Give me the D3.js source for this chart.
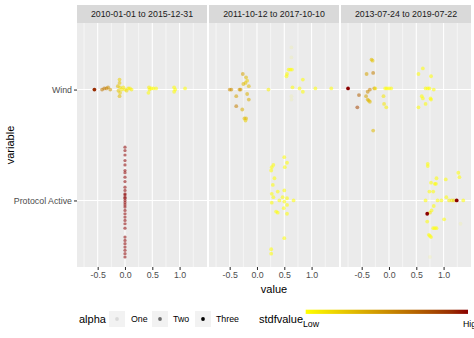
<!DOCTYPE html>
<html><head><meta charset="utf-8">
<script src="https://cdn.jsdelivr.net/npm/d3@7"></script>
<style>body{margin:0;background:#fff} svg{display:block;font-family:"Liberation Sans",Arial,sans-serif}</style>
</head><body><svg id="c" width="474" height="338"></svg>
<script>
// ---------- data ----------
const periods = ["2010-01-01 to 2015-12-31", "2011-10-12 to 2017-10-10", "2013-07-24 to 2019-07-22"];
const variables = ["Protocol Active", "Wind"];          // level 1, level 2
const xTicks = [-0.5, 0, 0.5, 1.0];
const xMinor = [-0.75, -0.25, 0.25, 0.75, 1.25];
const xDomain = [-0.879, 1.502];
const alphaLevels = ["One", "Two", "Three"];
const alphaValues = [0.1, 0.55, 1];
const stdfLabels = ["Low", "High"];
const stdfColors = ["#FFFF00", "#8B0000"];

// rows: [value, variable index, y jitter, stdfvalue (0..1), alpha index]
const panel1Points = [
  [-0.56,1,0.00,0.9,2],[-0.42,1,0.00,0.6,1],[-0.38,1,0.01,0.6,1],[-0.34,1,0.01,0.55,1],[-0.31,1,0.02,0.5,1],
  [-0.27,1,0.00,0.45,1],[-0.10,1,0.09,0.2,1],[-0.10,1,0.06,0.25,1],[-0.13,1,0.03,0.3,1],[-0.09,1,0.02,0.15,1],
  [-0.12,1,-0.01,0.25,1],[-0.06,1,0.00,0.1,1],[-0.03,1,0.02,0.1,1],[0.00,1,0.00,0.1,1],[0.03,1,-0.01,0.15,1],
  [0.06,1,0.01,0.1,1],[-0.09,1,-0.03,0.2,1],[-0.10,1,-0.06,0.3,1],[0.09,1,0.01,0.05,1],[0.12,1,0.00,0.05,1],
  [0.44,1,0.02,0.05,1],[0.45,1,0.00,0.05,1],[0.48,1,0.01,0,1],[0.52,1,0.01,0,1],[0.57,1,0.01,0,1],
  [0.43,1,-0.03,0,1],[0.90,1,0.02,0,1],[0.92,1,0.00,0,1],[0.90,1,-0.02,0,1],[1.10,1,0.01,0,1],
  [0,0,0.48,1,1],[0,0,0.45,1,1],[0,0,0.41,1,1],[0,0,0.36,1,1],[0,0,0.32,1,1],[0,0,0.27,1,1],
  [0,0,0.25,1,1],[0,0,0.21,1,1],[0,0,0.17,1,1],[0,0,0.12,1,1],[0,0,0.09,1,1],[0,0,0.06,1,1],
  [0,0,0.05,1,1],[0,0,0.03,1,1],[0,0,0.02,1,1],[0,0,0.00,1,1],[0,0,-0.02,1,1],[0,0,-0.04,1,1],
  [0,0,-0.06,1,1],[0,0,-0.09,1,1],[0,0,-0.12,1,1],[0,0,-0.15,1,1],[0,0,-0.18,1,1],[0,0,-0.21,1,1],
  [0,0,-0.25,1,1],[0,0,-0.33,1,1],[0,0,-0.36,1,1],[0,0,-0.39,1,1],[0,0,-0.42,1,1],[0,0,-0.45,1,1],
  [0,0,-0.48,1,1],[0,0,-0.51,1,1]
];
const panel2Points = [
  [-0.50,1,0.00,0.5,1],[-0.47,1,0.00,0.5,1],[-0.32,1,0.00,0.45,1],[-0.30,1,0.00,0.45,1],[-0.26,1,0.14,0.4,1],
  [-0.20,1,0.11,0.3,1],[-0.18,1,0.08,0.2,1],[-0.21,1,0.06,0.25,1],[-0.25,1,0.05,0.3,1],[-0.15,1,0.03,0.3,1],
  [-0.38,1,-0.06,0.4,1],[-0.18,1,-0.04,0.35,1],[-0.15,1,-0.09,0.35,1],[-0.38,1,-0.15,0.55,1],[-0.27,1,-0.18,0.35,1],
  [-0.23,1,-0.26,0.3,1],[-0.20,1,-0.26,0.3,1],[-0.21,1,-0.28,0.2,1],[0.21,1,0.00,0.05,1],[0.63,1,0.38,0.05,0],
  [0.63,1,0.29,0.05,0],[0.58,1,0.18,0,1],[0.61,1,0.18,0,1],[0.64,1,0.18,0,1],[0.55,1,0.14,0,1],
  [0.54,1,0.12,0,1],[0.84,1,0.09,0,1],[0.65,1,0.02,0,1],[0.78,1,0.01,0,1],[0.84,1,-0.02,0,1],
  [1.07,1,0.01,0,1],[1.36,1,0.01,0,1],[0.63,1,-0.06,0.05,0],[0.63,1,-0.09,0.05,0],
  [0.50,0,0.39,0,1],[0.55,0,0.34,0,1],[0.51,0,0.30,0,1],[0.30,0,0.32,0,1],[0.27,0,0.30,0,1],
  [0.26,0,0.27,0,1],[0.32,0,0.20,0,1],[0.29,0,0.14,0,1],[0.38,0,0.08,0,1],[0.50,0,0.09,0,1],
  [0.27,0,0.06,0,1],[0.30,0,0.03,0,1],[0.41,0,0.00,0,1],[0.47,0,0.03,0,1],[0.50,0,-0.01,0,1],
  [0.55,0,0.02,0,1],[0.67,0,0.00,0,1],[0.27,0,-0.02,0,1],[0.55,0,-0.04,0,1],[0.49,0,-0.07,0,1],
  [0.38,0,-0.11,0,1],[0.35,0,-0.10,0,1],[0.55,0,-0.12,0,1],[0.50,0,-0.34,0,1],[0.26,0,-0.44,0,1],
  [0.26,0,-0.48,0,1]
];
const panel3Points = [
  [-0.75,1,0.01,1.0,2],[-0.55,1,-0.05,0.7,1],[-0.58,1,-0.16,0.8,1],[-0.41,1,0.14,0.4,1],[-0.39,1,-0.02,0.5,1],
  [-0.42,1,-0.06,0.4,1],[-0.39,1,-0.09,0.35,1],[-0.37,1,-0.10,0.3,1],[-0.35,1,-0.11,0.3,1],[-0.35,1,0.00,0.55,1],
  [-0.32,1,0.27,0.3,1],[-0.30,1,0.26,0.25,1],[-0.29,1,0.15,0.55,1],[-0.27,1,0.01,0.45,1],[-0.25,1,0.01,0.1,1],
  [-0.10,1,-0.06,0.1,1],[-0.09,1,-0.13,0.1,1],[-0.05,1,-0.16,0.05,1],[-0.07,1,0.01,0,1],[-0.04,1,0.01,0,1],
  [0.00,1,0.01,0,1],[0.04,1,0.01,0,1],[-0.29,1,-0.37,0.3,1],[0.54,1,0.14,0,1],[0.62,1,0.19,0,1],
  [0.77,1,0.12,0,1],[0.67,1,0.01,0,1],[0.71,1,0.01,0,1],[0.74,1,0.01,0,1],[0.82,1,0.00,0,1],
  [0.60,1,-0.06,0,1],[0.62,1,-0.08,0,1],[0.76,1,-0.08,0,1],[0.77,1,-0.09,0,1],[0.67,1,-0.13,0,1],
  [0.54,1,-0.16,0,1],
  [0.71,0,0.33,0,1],[0.71,0,0.31,0,1],[1.27,0,0.25,0,1],[1.29,0,0.21,0,1],[0.87,0,0.20,0,1],
  [0.77,0,0.16,0,1],[0.84,0,0.15,0,1],[0.86,0,0.15,0,1],[1.04,0,0.19,0,1],[0.74,0,0.08,0,1],
  [0.81,0,0.08,0,1],[1.05,0,0.03,0,1],[0.67,0,0.00,0,1],[0.89,0,0.00,0,1],[0.96,0,0.00,0,1],
  [1.10,0,0.00,0.05,1],[1.15,0,0.00,0.1,1],[1.19,0,0.00,0.2,1],[1.36,0,0.00,0,1],[0.82,0,-0.05,0,1],
  [0.78,0,-0.09,0,1],[0.75,0,-0.11,0.1,1],[1.01,0,-0.17,0,1],[0.70,0,-0.19,0,1],[0.81,0,-0.25,0,1],
  [0.84,0,-0.25,0,1],[0.87,0,-0.25,0,1],[1.31,0,-0.21,0,0],[0.73,0,-0.31,0,1],[0.75,0,-0.32,0,1],
  [0.77,0,-0.33,0,1],[0.75,0,-0.51,0,0],
  [1.24,0,0.00,1.0,2],[0.70,0,-0.12,1.0,2]
];
const panelPoints = [panel1Points, panel2Points, panel3Points];

// ---------- layout ----------
const svg = d3.select("#c");
const font = '"Liberation Sans", Arial, sans-serif';
const panelLeft = 77, panelW = 130, panelGap = 2;
const stripTop = 5, stripH = 18, panelTop = 23, panelBottom = 267;

const y = d3.scaleLinear().domain([0.4, 2.6]).range([panelBottom, panelTop]);
const color = d3.scaleLinear().domain([0, 1]).range(stdfColors).interpolate(d3.interpolateLab);
const alpha = d3.scaleOrdinal().domain([0, 1, 2]).range(alphaValues);

periods.forEach((p, i) => {
  const x0 = panelLeft + i * (panelW + panelGap);
  const x = d3.scaleLinear().domain(xDomain).range([x0, x0 + panelW]);
  const g = svg.append("g");
  g.append("rect").attr("x", x0).attr("y", panelTop).attr("width", panelW)
    .attr("height", panelBottom - panelTop).attr("fill", "#EBEBEB");
  g.selectAll(".mn").data(xMinor).join("line")
    .attr("x1", d => x(d)).attr("x2", d => x(d)).attr("y1", panelTop).attr("y2", panelBottom)
    .attr("stroke", "#fff").attr("stroke-width", 0.55);
  g.selectAll(".mj").data(xTicks).join("line")
    .attr("x1", d => x(d)).attr("x2", d => x(d)).attr("y1", panelTop).attr("y2", panelBottom)
    .attr("stroke", "#fff").attr("stroke-width", 1.07);
  g.selectAll(".hy").data([1, 2]).join("line")
    .attr("x1", x0).attr("x2", x0 + panelW).attr("y1", d => y(d)).attr("y2", d => y(d))
    .attr("stroke", "#fff").attr("stroke-width", 1.07);
  g.append("rect").attr("x", x0).attr("y", stripTop).attr("width", panelW).attr("height", stripH)
    .attr("fill", "#D9D9D9");
  g.append("text").attr("x", x0 + panelW / 2).attr("y", stripTop + stripH / 2 + 3.1)
    .attr("text-anchor", "middle").attr("font-size", 8.8).attr("fill", "#1A1A1A").text(p);
  g.selectAll("circle").data(panelPoints[i]).join("circle")
    .attr("cx", d => x(d[0])).attr("cy", d => y(d[1] + 1 + d[2]))
    .attr("r", d => d[1] === 0 && i === 0 ? 1.6 : 1.9)
    .attr("fill", d => color(d[3])).attr("fill-opacity", d => alpha(d[4]));
  const ax = g.append("g").attr("transform", `translate(0,${panelBottom})`)
    .call(d3.axisBottom(x).tickValues(xTicks).tickFormat(d => d.toFixed(1)).tickSize(3).tickPadding(2));
  ax.select(".domain").remove();
  ax.selectAll("line").attr("stroke", "#333333").attr("stroke-width", 1.07);
  ax.selectAll("text").attr("font-size", 8.8).attr("fill", "#4D4D4D").attr("font-family", font);
});

const ay = svg.append("g").attr("transform", `translate(${panelLeft},0)`)
  .call(d3.axisLeft(y).tickValues([1, 2]).tickFormat(d => variables[d - 1]).tickSize(3).tickPadding(2));
ay.select(".domain").remove();
ay.selectAll("line").attr("stroke", "#333333").attr("stroke-width", 1.07);
ay.selectAll("text").attr("font-size", 8.8).attr("fill", "#4D4D4D").attr("font-family", font);

const plotMid = panelLeft + (3 * panelW + 2 * panelGap) / 2;
svg.append("text").attr("x", plotMid).attr("y", 293).attr("text-anchor", "middle")
  .attr("font-size", 11).attr("fill", "#000").text("value");
svg.append("text").attr("transform", `translate(14,${(panelTop + panelBottom) / 2}) rotate(-90)`)
  .attr("text-anchor", "middle").attr("font-size", 11).attr("fill", "#000").text("variable");

const leg = svg.append("g");
leg.append("text").attr("x", 79).attr("y", 323).attr("font-size", 11).text("alpha");
const keyX = [109, 152, 195], labX = [131, 173, 216];
alphaLevels.forEach((lv, i) => {
  leg.append("rect").attr("x", keyX[i]).attr("y", 311).attr("width", 16).attr("height", 16).attr("fill", "#F2F2F2");
  leg.append("circle").attr("cx", keyX[i] + 8).attr("cy", 319).attr("r", 1.9)
    .attr("fill", "#000").attr("fill-opacity", alpha(i));
  leg.append("text").attr("x", labX[i]).attr("y", 322).attr("font-size", 8.8).attr("fill", "#000").text(lv);
});
leg.append("text").attr("x", 259).attr("y", 323).attr("font-size", 11).text("stdfvalue");
const defs = svg.append("defs");
const grad = defs.append("linearGradient").attr("id", "cb");
d3.range(0, 1.0001, 0.1).forEach(t => grad.append("stop").attr("offset", t).attr("stop-color", color(t)));
const cbX0 = 305.7, cbX1 = 468;
leg.append("rect").attr("x", cbX0).attr("y", 309.7).attr("width", cbX1 - cbX0).attr("height", 4.2).attr("fill", "url(#cb)");
const cbScale = d3.scaleLinear().domain([0, 1]).range([311, 472]);
leg.selectAll(".cbl").data(stdfLabels).join("text")
  .attr("x", (d, i) => cbScale(i)).attr("y", 326.5).attr("text-anchor", "middle")
  .attr("font-size", 8.8).attr("fill", "#000").text(d => d);
</script></body></html>
